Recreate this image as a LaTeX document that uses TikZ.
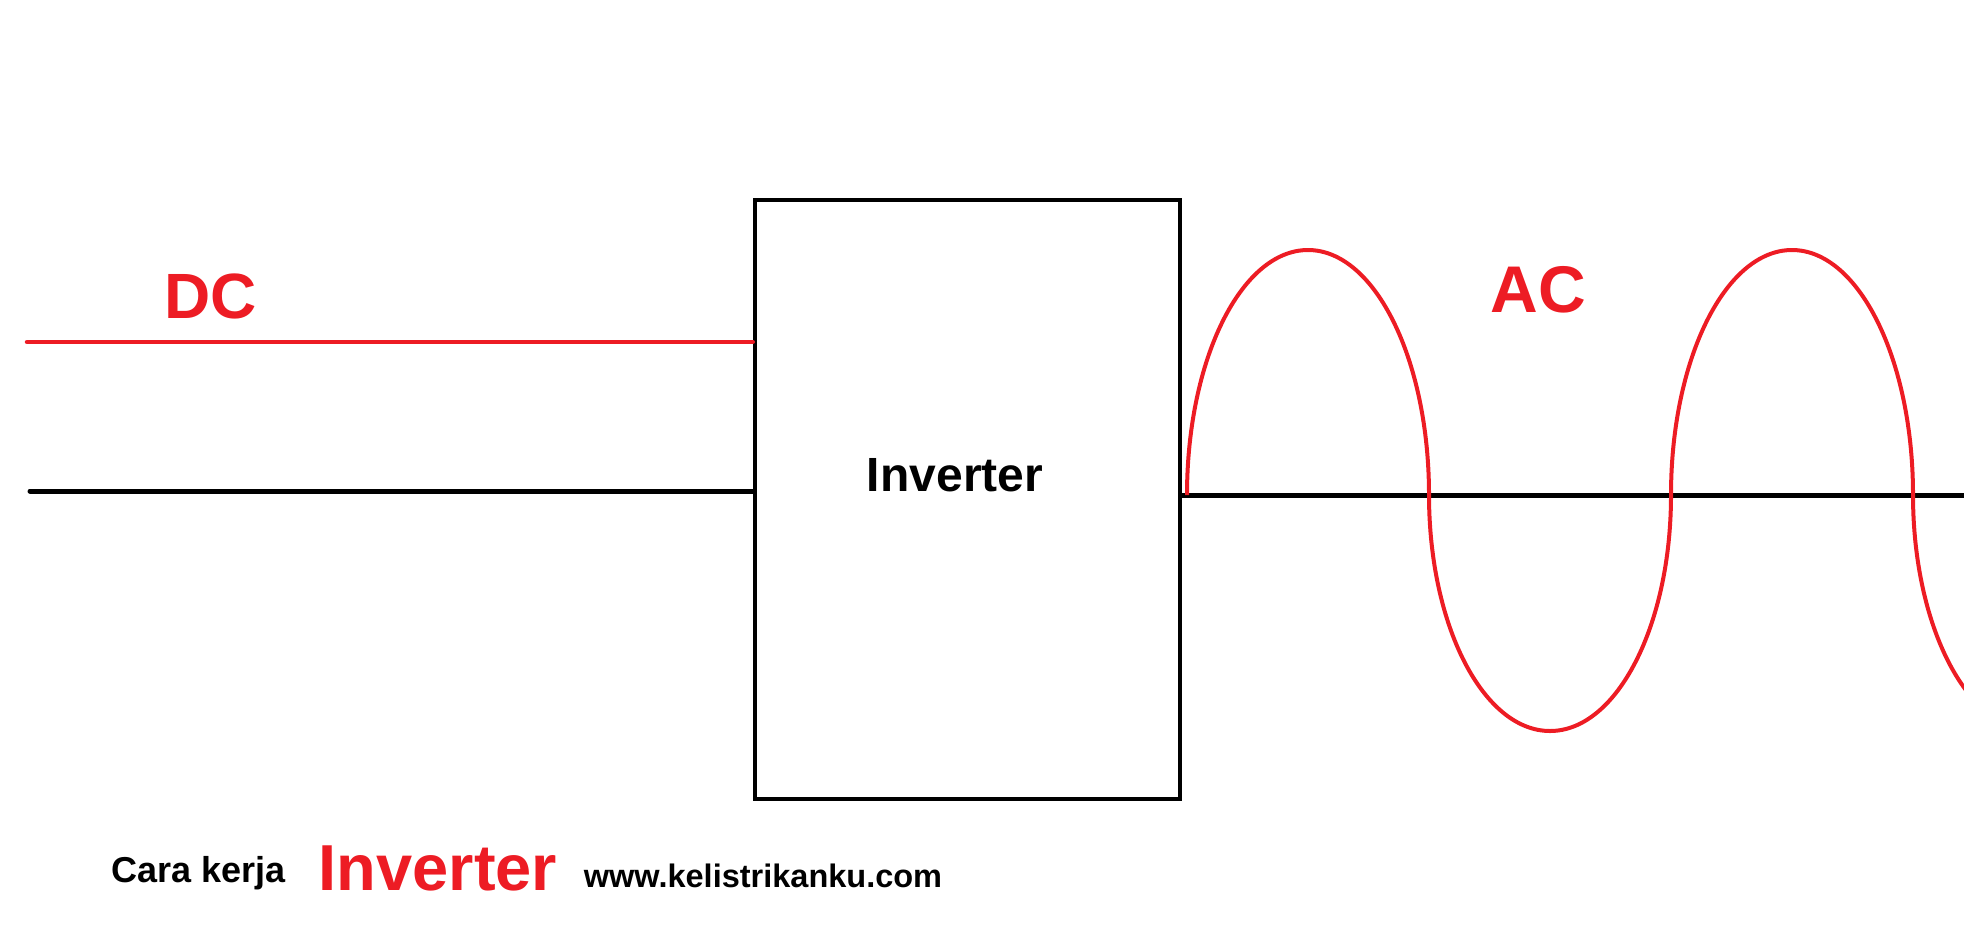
\documentclass[tikz,border=0pt]{standalone}
\usepackage{fontspec}
\setmainfont{Liberation Sans}
\usetikzlibrary{positioning}
\definecolor{paintred}{HTML}{ED1C24}

\begin{document}
\begin{tikzpicture}[x=1pt,y=-1pt,
  txt/.style={font=\bfseries\fontsize{#1pt}{#1pt}\selectfont, inner sep=0pt, anchor=base},
  redwire/.style={draw=paintred, line width=4.5pt, line cap=round},
  blackwire/.style={draw=black, line width=5pt, line cap=round},
  wave/.style={draw=paintred, line width=4pt}]
\useasboundingbox (0,0) rectangle (1964,948);

% inverter block
\node[draw, line width=4.5pt, minimum width=425pt, minimum height=599pt, inner sep=0pt] (inv) at (967.5,499.5) {};
\node[txt=48] (invlbl) at (955,491) {Inverter};

% DC side
\node[txt=64, text=paintred] (dc) at (211,318) {DC};
\coordinate (dcpos) at (27,342);
\coordinate (dcneg) at (30,491);
\draw[redwire] (dcpos) -- (dcpos -| inv.west);
\draw[blackwire] (dcneg) -- (dcneg -| inv.west);

% AC side
\node[txt=66, text=paintred] (ac) at (1538,312) {AC};
\coordinate (acend) at (1964,495);
\draw[blackwire, line cap=butt] (acend -| inv.east) -- (acend);
\coordinate (ac0) at (1187,495);
\begin{scope}
  \clip (0,0) rectangle (1964,948);
  \draw[wave] (ac0)
    arc[start angle=180, end angle=0, x radius=121pt, y radius=245pt]
    arc[start angle=180, end angle=360, x radius=121pt, y radius=236pt]
    arc[start angle=180, end angle=0, x radius=121pt, y radius=245pt]
    arc[start angle=180, end angle=360, x radius=121pt, y radius=236pt];
\end{scope}

% caption
\node[txt=36] (cara) at (199,882) {Cara kerja};
\node[txt=65, text=paintred] (title) at (438,890) {Inverter};
\node[txt=32.5] (web) at (763,887) {www.kelistrikanku.com};
\end{tikzpicture}
\end{document}
